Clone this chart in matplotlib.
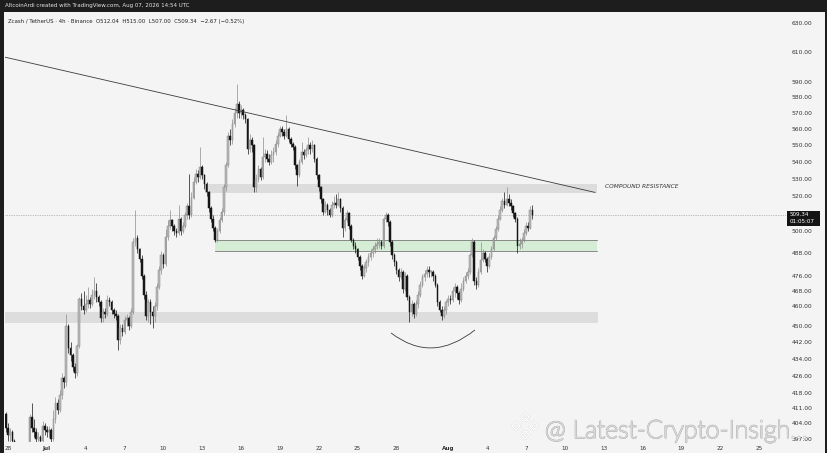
import matplotlib.pyplot as plt
import matplotlib.patheffects as pe
from matplotlib.path import Path
from matplotlib.patches import PathPatch, Rectangle
from matplotlib.ticker import NullLocator

W, H = 828, 453

# --- dati: candele 4h ZEC/USDT, giorno 0 = 28 giugno, prima candela 27 giu 16:00 ---
first_day = -1 / 3
first_open = 404
closes = [
    408, 402, 399, 400, 396, 390, 386, 388, 384, 387, 391, 392,
    407, 402, 400, 397, 398, 396, 403, 401, 400, 401, 397, 406,
    413, 410, 417, 425, 423, 450, 439, 436, 430, 427, 440, 464,
    460, 458, 461, 463, 461, 466, 468, 465, 462, 454, 457, 456,
    463, 462, 458, 456, 455, 443, 449, 447, 453, 454, 450, 457,
    494, 496, 490, 485, 476, 466, 455, 462, 457, 455, 460, 470,
    479, 487, 482, 497, 503, 506, 503, 500, 499, 507, 500, 503,
    509, 514, 509, 519, 528, 533, 531, 537, 532, 527, 522, 513,
    507, 502, 495, 500, 506, 511, 525, 538, 556, 553, 563, 570,
    576, 570, 572, 569, 566, 548, 553, 550, 525, 530, 536, 531,
    543, 545, 542, 540, 544, 546, 551, 556, 560, 558, 556, 560,
    554, 551, 549, 538, 532, 540, 546, 544, 547, 550, 548, 550,
    542, 532, 525, 518, 511, 515, 512, 509, 515, 516, 515, 518,
    513, 502, 506, 510, 503, 495, 492, 490, 486, 481, 476, 480,
    483, 486, 488, 490, 492, 493, 494, 492, 507, 509, 505, 494,
    487, 483, 479, 475, 478, 469, 476, 465, 457, 461, 456, 461,
    466, 471, 475, 477, 479, 478, 478, 476, 471, 462, 458, 455,
    458, 462, 464, 463, 468, 470, 467, 463, 469, 473, 476, 478,
    487, 494, 473, 471, 478, 484, 488, 485, 481, 486, 490, 496,
    501, 507, 512, 517, 515, 518, 516, 514, 510, 507, 492, 493,
    495, 499, 503, 502, 512.04, 509.34,
]
highs = [
    412, 409, 404, 402, 401, 397, 392, 391, 390, 392, 395, 395,
    408, 413, 406, 402, 400, 399, 405, 404, 403, 403, 402, 410,
    416, 415, 419, 427, 426, 456, 451, 442, 437, 432, 441, 465,
    467, 468, 466, 470, 465, 469, 475, 472, 466, 463, 459, 459,
    466, 465, 463, 459, 458, 456, 451, 451, 455, 456, 455, 459,
    496, 512, 498, 491, 487, 477, 468, 464, 464, 460, 462, 472,
    481, 489, 488, 501, 506, 512, 507, 504, 502, 515, 508, 505,
    511, 516, 533, 522, 531, 536, 535, 549, 538, 533, 528, 523,
    514, 509, 503, 502, 508, 513, 527, 540, 558, 560, 566, 573,
    589, 578, 575, 573, 570, 567, 557, 555, 551, 533, 538, 537,
    555, 548, 547, 545, 547, 549, 553, 558, 562, 562, 560, 569,
    561, 555, 552, 550, 539, 542, 552, 548, 549, 555, 552, 553,
    551, 543, 533, 526, 519, 517, 516, 513, 517, 520, 521, 522,
    519, 514, 508, 512, 511, 504, 496, 494, 491, 487, 482, 482,
    485, 488, 490, 492, 494, 496, 496, 495, 508, 511, 510, 506,
    495, 488, 484, 480, 480, 479, 478, 477, 466, 463, 462, 463,
    468, 473, 477, 479, 481, 481, 479, 479, 477, 472, 463, 460,
    460, 463, 466, 466, 470, 472, 471, 468, 472, 475, 478, 480,
    488, 496, 495, 475, 480, 494, 490, 489, 486, 488, 492, 498,
    503, 509, 514, 519, 522, 525, 521, 518, 515, 511, 508, 496,
    497, 501, 505, 505, 514, 515,
]
lows = [
    401, 400, 396, 395, 392, 386, 382, 380, 378, 382, 385, 386,
    390, 400, 398, 395, 395, 394, 395, 399, 398, 398, 395, 396,
    404, 408, 409, 415, 420, 421, 437, 433, 428, 425, 426, 439,
    458, 456, 457, 459, 459, 460, 464, 462, 460, 452, 452, 454,
    455, 460, 456, 454, 453, 438, 441, 445, 446, 450, 448, 449,
    456, 492, 488, 483, 474, 464, 453, 452, 451, 449, 452, 458,
    469, 477, 480, 481, 495, 501, 500, 498, 497, 498, 498, 499,
    502, 507, 507, 508, 518, 527, 528, 530, 530, 524, 520, 511,
    505, 500, 494, 494, 499, 505, 509, 523, 537, 550, 551, 561,
    567, 567, 567, 566, 564, 545, 546, 546, 522, 522, 528, 529,
    530, 540, 540, 538, 539, 540, 544, 549, 555, 556, 554, 555,
    552, 549, 547, 536, 526, 531, 539, 542, 543, 545, 545, 546,
    540, 530, 523, 516, 509, 510, 509, 508, 508, 513, 513, 514,
    511, 497, 500, 505, 501, 494, 490, 488, 484, 479, 474, 475,
    478, 481, 484, 486, 488, 490, 491, 490, 491, 505, 503, 492,
    485, 481, 477, 473, 474, 467, 468, 463, 452, 455, 454, 455,
    459, 465, 470, 473, 475, 475, 475, 473, 470, 460, 457, 453,
    454, 456, 460, 461, 462, 465, 464, 461, 462, 468, 472, 474,
    477, 486, 471, 469, 470, 477, 483, 483, 478, 480, 485, 489,
    495, 500, 506, 511, 513, 514, 514, 512, 508, 505, 488, 490,
    491, 494, 498, 500, 501, 507,
]

# etichette assi
price_ticks = [630, 610, 590, 580, 570, 560, 550, 540, 530, 520, 500, 488,
               476, 468, 460, 450, 442, 434, 426, 418, 411, 404, 397]
date_ticks = [0, 3, 6, 9, 12, 15, 18, 21, 24, 27, 30, 34, 37, 40, 43, 46, 49, 52, 55, 58]
date_labels = ['28', 'Jul', '4', '7', '10', '13', '16', '19', '22', '25', '28',
               'Aug', '4', '7', '10', '13', '16', '19', '22', '25']

# disegni dell'autore (giorni, prezzi)
resistance_zone = (521.5, 527.0)
resistance_days = (15.2, 45.5)
support_zone = (489.4, 495.2)
support_days = (16.0, 45.5)
base_zone = (451.6, 457.1)
base_days = (-0.3, 45.55)
trend_days = [-0.62, 45.33]
trend_prices = [607.3, 522.0]
arc_days = [29.58, 32.74, 36.06]
arc_prices = [446.6, 431.3, 448.1]
label_day, label_price = 46.1, 525.2


def fx(px):
    return px / W


def fy(py):
    return 1 - py / H


fig = plt.figure(figsize=(W / 100, H / 100), dpi=100, facecolor='#1d1d1d')
fig.patches.append(Rectangle((fx(4), 0), fx(825) - fx(4), fy(12), transform=fig.transFigure,
                             facecolor='#f4f4f4', edgecolor='none', zorder=-5))

ax = fig.add_axes([fx(5), fy(442), (786 - 5) / W, (442 - 12) / H])
ax.set_zorder(1)
ax.set_facecolor('#f4f4f4')
ax.set_yscale('log')
ax.set_xlim(-0.232, 60.08)
ax.set_ylim(395.7, 637.7)
for s in ax.spines.values():
    s.set_visible(False)

# zone
ax.fill_between(resistance_days, *resistance_zone, color='#dcdcdc', lw=0, zorder=1)
ax.fill_between(base_days, *base_zone, color='#dddddd', lw=0, zorder=1)
ax.fill_between(support_days, *support_zone, color='#d5ecd5', lw=0, zorder=1)
for p in support_zone:
    ax.plot(support_days, [p, p], color='#7a7a7a', lw=0.6, zorder=1.5)

# candele
opens = [first_open] + closes[:-1]
cw = 0.75 / 6
for i, (o, h, l, c) in enumerate(zip(opens, highs, lows, closes)):
    d = first_day + i / 6
    h = max(h, o, c)
    l = min(l, o, c)
    up = c >= o
    wick = '#8c8c8c' if up else '#161616'
    ax.vlines(d, l, h, colors=wick, lw=0.5, zorder=2)
    body = max(abs(c - o), 0.4)
    ax.bar(d, body, bottom=min(o, c), width=cw,
           color='#bababa' if up else '#161616',
           edgecolor='#858585' if up else '#161616', lw=0.35, zorder=2.5)

# trendline e arco
ax.plot(trend_days, trend_prices, color='#3a3a3a', lw=0.6, zorder=3)
arc = Path(list(zip(arc_days, arc_prices)), [Path.MOVETO, Path.CURVE3, Path.CURVE3])
ax.add_patch(PathPatch(arc, facecolor='none', edgecolor='#3a3a3a', lw=0.6, zorder=3))

ax.text(label_day, label_price, 'COMPOUND RESISTANCE', fontsize=4.2, style='italic',
        color='#333333', va='center', ha='left')

# prezzo corrente
last_close = closes[-1]
ax.axhline(last_close, color='#8a8a8a', lw=0.5, ls=(0, (1, 1.5)), zorder=1.8)

# assi
ax.yaxis.tick_right()
ax.set_yticks(price_ticks)
ax.set_yticklabels([f'{t:.2f}' for t in price_ticks])
ax.yaxis.set_minor_locator(NullLocator())
ax.tick_params(axis='y', length=0, pad=4, labelsize=4.3, labelcolor='#333333')
ax.set_xticks(date_ticks)
ax.set_xticklabels(date_labels)
ax.tick_params(axis='x', length=0, pad=3, labelsize=4.1, labelcolor='#333333')
for t in ax.get_xticklabels():
    if t.get_text() in ('Jul', 'Aug'):
        t.set_fontweight('bold')

fig.patches.append(Rectangle((fx(787), fy(226)), (820 - 787) / W, 15 / H, transform=fig.transFigure,
                             facecolor='#141414', edgecolor='none', zorder=5))
fig.text(fx(790), fy(214.3), f'{last_close:.2f}', color='white', fontsize=4.1, va='center', zorder=6)
fig.text(fx(790), fy(221.7), '01:05:07', color='white', fontsize=4.1, va='center', zorder=6)

# intestazioni
fig.text(fx(5), fy(6), 'AltcoinArdi created with TradingView.com, Aug 07, 2026 14:54 UTC',
         color='#e6e6e6', fontsize=4.0, va='center')
fig.text(fx(8), fy(22),
         'Zcash / TetherUS · 4h · Binance  O512.04  H515.00  L507.00  C509.34  \u22122.67 (\u22120.52%)',
         color='#222222', fontsize=3.9, va='center')

# watermark (sopra le etichette di prezzo, come nel riferimento)
wm = [pe.withStroke(linewidth=1.3, foreground='#c4c4c4')]
fig.text(fx(545), fy(438), '@ Latest-Crypto-Insigh...', color='white', fontsize=18,
         family='Lato', fontweight='light', va='baseline', path_effects=wm, zorder=7)
for dx, dy, ms in [(0, 0, 8), (0, -9, 4.5), (0, 9, 4.5), (-9, 0, 4.5), (9, 0, 4.5)]:
    fig.lines.append(plt.Line2D([fx(525 + dx)], [fy(426 + dy)], transform=fig.transFigure,
                                marker='D', ms=ms, mfc='none', mec='white', mew=1.1,
                                path_effects=wm, zorder=7))

fig.savefig('out.png', dpi=100, facecolor=fig.get_facecolor())
